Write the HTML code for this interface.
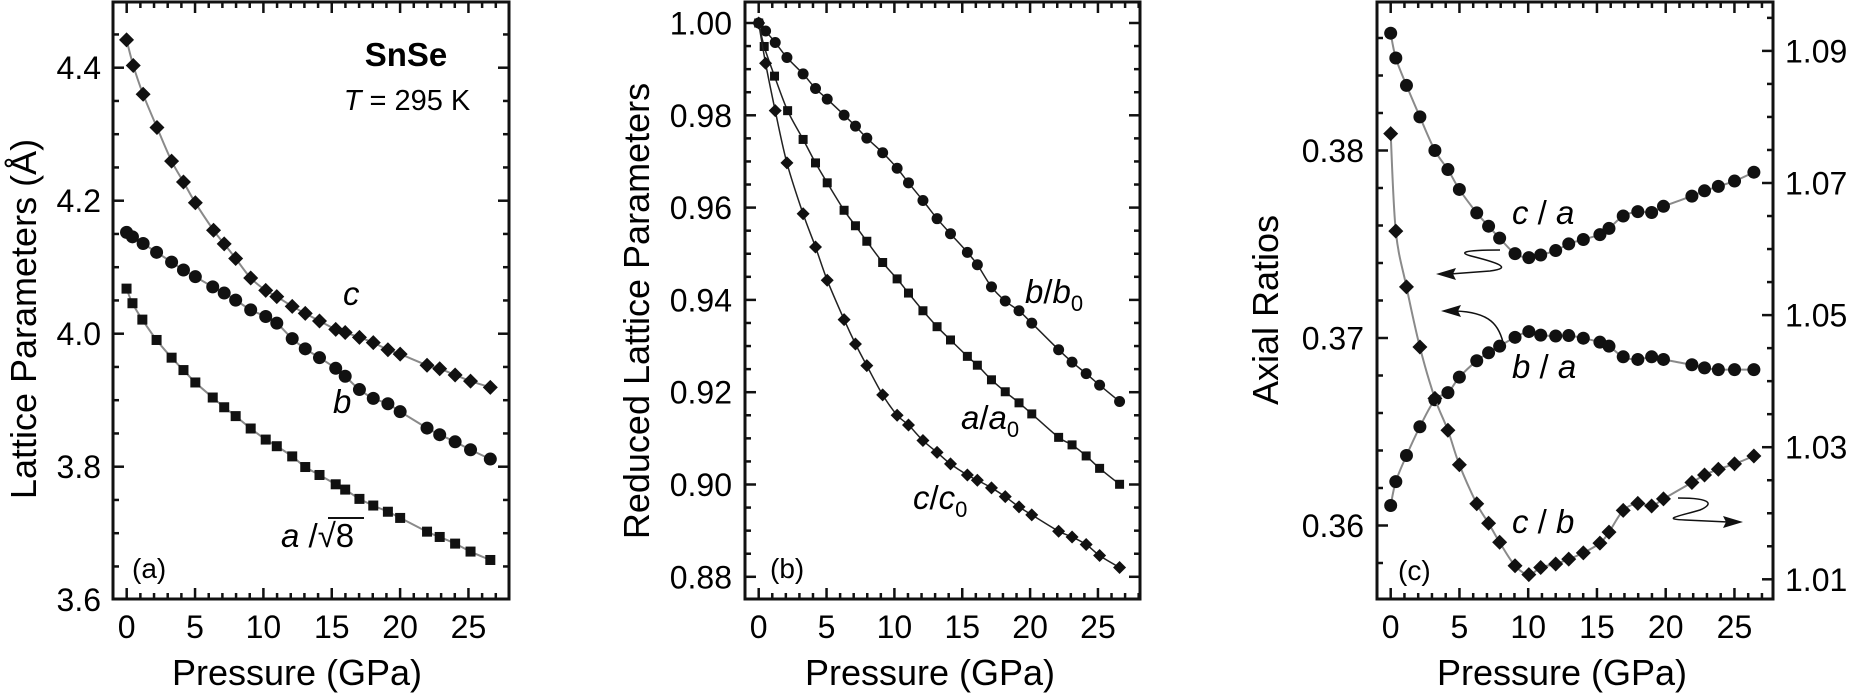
<!DOCTYPE html>
<html><head><meta charset="utf-8"><style>
html,body{margin:0;padding:0;background:#fff;}
svg{display:block;font-family:"Liberation Sans",Arial,sans-serif;}
</style></head><body>
<svg id="s" width="1849" height="694" viewBox="0 0 1849 694" xmlns="http://www.w3.org/2000/svg"></svg>
<script>
const S=document.getElementById('s');let h='';
function cr(p){let d='M'+p[0][0].toFixed(1)+','+p[0][1].toFixed(1);for(let i=0;i<p.length-1;i++){const p0=p[i-1]||p[i],p1=p[i],p2=p[i+1],p3=p[i+2]||p2;
const c1=[p1[0]+(p2[0]-p0[0])/6,p1[1]+(p2[1]-p0[1])/6],c2=[p2[0]-(p3[0]-p1[0])/6,p2[1]-(p3[1]-p1[1])/6];
d+=`C${c1[0].toFixed(1)},${c1[1].toFixed(1)} ${c2[0].toFixed(1)},${c2[1].toFixed(1)} ${p2[0].toFixed(1)},${p2[1].toFixed(1)}`;}return d;}
function mk(t,x,y,s){if(t=='c')return `<circle cx="${x}" cy="${y}" r="${s}" fill="#111"/>`;
if(t=='s')return `<rect x="${x-s}" y="${y-s}" width="${2*s}" height="${2*s}" fill="#111"/>`;
return `<polygon points="${x},${y-s} ${x+s},${y} ${x},${y+s} ${x-s},${y}" fill="#111"/>`;}
function series(pts,sx,off,t,s,col,lw){const p=pts.map(q=>[q[0]/sx+off,q[1]/2.259]);
h+=`<path d="${cr(p)}" fill="none" stroke="${col}" stroke-width="${lw}"/>`;p.forEach(q=>h+=mk(t,q[0],q[1],s));}
const FS=32;
function frame(L,R,T,B,x0,gpa,yt,ytR){
 for(let g=-1;g<=28;g++){const x=x0+g*gpa;if(x<=L+1||x>=R-1)continue;const M=g%5==0;const l=M?11:6;
  h+=`<line x1="${x}" y1="${B}" x2="${x}" y2="${B-l}" stroke="#111" stroke-width="2.5"/><line x1="${x}" y1="${T}" x2="${x}" y2="${T+l}" stroke="#111" stroke-width="2.5"/>`;
  if(M&&g>=0&&g<=25)h+=`<text x="${x}" y="638" font-size="${FS}" text-anchor="middle">${g}</text>`;}
 yt.forEach(t=>{const l=t[1]?11:6;h+=`<line x1="${L}" y1="${t[0]}" x2="${L+l}" y2="${t[0]}" stroke="#111" stroke-width="2.5"/>`;});
 (ytR||yt).forEach(t=>{const l=t[1]?11:6;h+=`<line x1="${R}" y1="${t[0]}" x2="${R-l}" y2="${t[0]}" stroke="#111" stroke-width="2.5"/>`;});
 h+=`<rect x="${L}" y="${T}" width="${R-L}" height="${B-T}" fill="none" stroke="#111" stroke-width="3"/>`;}
// Panel a
(function(){const yt=[],y44=67.7,per=665;for(let k=0;k<=18;k++){const v=3.6+k*0.05;const y=y44+(4.4-v)*per;if(y<3||y>602)continue;if(y<597)yt.push([y,k%4==0]);
 if(k%4==0)h+=`<text x="101" y="${y+11.5}" font-size="${FS}" text-anchor="end">${v.toFixed(1)}</text>`;}
 frame(113,509,2,599,126.7,13.67,yt);
 const sx=2.529;
 series([[320,90],[337,148],[362,213],[397,288],[434,364],[464,411],[494,458],[540,520],[567,551],[596,584],[634,628],[672,656],[700,670],[739,692],[772,708],[808,725],[849,744],[873,751],[909,762],[944,774],[981,790],[1012,800],[1080,825],[1112,833],[1151,847],[1190,861],[1240,875]],sx,0,'d',7.5,'#8a8a8a',2);
 series([[320,525],[335,535],[362,550],[396,570],[434,592],[464,610],[494,625],[538,648],[567,662],[596,678],[634,700],[672,715],[700,730],[739,765],[772,788],[808,808],[849,832],[873,850],[909,880],[944,900],[981,912],[1012,930],[1080,967],[1112,982],[1151,998],[1190,1016],[1240,1037]],sx,0,'c',6.5,'#8a8a8a',2);
 series([[320,652],[335,685],[360,722],[396,768],[434,808],[464,836],[494,864],[538,898],[567,920],[596,940],[634,968],[672,993],[700,1008],[739,1031],[772,1055],[808,1073],[849,1094],[873,1106],[909,1127],[944,1142],[981,1156],[1012,1170],[1080,1201],[1112,1213],[1151,1228],[1190,1246],[1240,1265]],sx,0,'s',5,'#8a8a8a',2);
 h+=`<text x="406" y="66" font-size="33" font-weight="bold" text-anchor="middle">SnSe</text>`;
 h+=`<text x="407" y="110" font-size="29" text-anchor="middle"><tspan font-style="italic">T</tspan> = 295 K</text>`;
 h+=`<text x="343" y="305" font-size="33" font-style="italic">c</text>`;
 h+=`<text x="333" y="413" font-size="33" font-style="italic">b</text>`;
 h+=`<text x="281" y="547" font-size="33"><tspan font-style="italic">a</tspan> /√8</text>`;
 h+=`<line x1="328" y1="518" x2="364" y2="518" stroke="#111" stroke-width="2"/>`;
 h+=`<text x="132" y="578" font-size="28">(a)</text>`;
 h+=`<text x="297" y="685" font-size="36" text-anchor="middle">Pressure (GPa)</text>`;
 h+=`<text transform="translate(36,319) rotate(-90)" font-size="36" text-anchor="middle">Lattice Parameters (Å)</text>`;
})();
// Panel b
(function(){const yt=[];for(let k=0;k<=30;k++){const v=0.875+k*0.005;const y=23+(1-v)*4615;if(y<3||y>597)continue;const M=Math.abs((v*100)%2)<0.01||Math.abs((v*100)%2-2)<0.01;yt.push([y,M]);
 if(M)h+=`<text x="732" y="${y+11.5}" font-size="${FS}" text-anchor="end">${v.toFixed(2)}</text>`;}
 frame(745,1140,2,599,758.7,13.57,yt);
 const sx=2.904,o=560;
 series([[577,52],[597,70],[625,96],[659,130],[706,167],[742,200],[776,224],[825,260],[858,285],[891,312],[937,345],[979,380],[1012,413],[1054,453],[1095,494],[1134,528],[1183,570],[1212,598],[1253,648],[1293,680],[1333,702],[1370,730],[1448,790],[1487,818],[1528,844],[1567,870],[1625,907]],sx,o,'c',5.5,'#222',1.5);
 series([[577,52],[593,105],[623,172],[661,250],[706,315],[742,368],[776,413],[825,475],[858,510],[891,545],[937,593],[979,630],[1012,662],[1054,702],[1095,738],[1134,768],[1183,805],[1212,825],[1253,858],[1293,885],[1333,910],[1370,935],[1448,988],[1487,1005],[1528,1030],[1567,1058],[1625,1094]],sx,o,'s',4.5,'#222',1.5);
 series([[577,52],[597,143],[625,250],[659,368],[706,483],[742,558],[776,633],[825,722],[858,777],[891,826],[937,892],[979,938],[1012,960],[1054,995],[1095,1022],[1134,1048],[1183,1073],[1212,1085],[1253,1102],[1293,1122],[1333,1145],[1370,1163],[1448,1200],[1487,1213],[1528,1230],[1567,1255],[1625,1282]],sx,o,'d',6.5,'#222',1.5);
 h+=`<text x="1025" y="303" font-size="33" font-style="italic">b<tspan font-style="normal">/</tspan>b<tspan font-size="22" font-style="normal" dy="8">0</tspan></text>`;
 h+=`<text x="961" y="429" font-size="33" font-style="italic">a<tspan font-style="normal">/</tspan>a<tspan font-size="22" font-style="normal" dy="8">0</tspan></text>`;
 h+=`<text x="913" y="509" font-size="33" font-style="italic">c<tspan font-style="normal">/</tspan>c<tspan font-size="22" font-style="normal" dy="8">0</tspan></text>`;
 h+=`<text x="770" y="578" font-size="28">(b)</text>`;
 h+=`<text x="930" y="685" font-size="36" text-anchor="middle">Pressure (GPa)</text>`;
 h+=`<text transform="translate(649,311) rotate(-90)" font-size="36" text-anchor="middle">Reduced Lattice Parameters</text>`;
})();
// Panel c
(function(){const yt=[],ytR=[];for(let k=0;k<=20;k++){const v=0.356+k*0.002;const y=150.5+(0.38-v)*18750;if(y<3||y>597)continue;const M=k%5==2;yt.push([y,M]);
 if(M)h+=`<text x="1364" y="${y+11.5}" font-size="${FS}" text-anchor="end">${v.toFixed(2)}</text>`;}
 for(let k=0;k<=20;k++){const v=1.005+k*0.005;const y=50.9+(1.09-v)*6605;if(y<3||y>597)continue;const M=k%4==1;ytR.push([y,M]);
 if(M)h+=`<text x="1785" y="${y+11.5}" font-size="${FS}">${v.toFixed(2)}</text>`;}
 frame(1377,1773,2,599,1390.7,13.75,yt,ytR);
 const sx=2.533,o=1230;
 series([[407,75],[420,131],[447,193],[481,264],[519,340],[552,383],[581,428],[625,481],[655,511],[683,538],[722,573],[757,582],[787,576],[825,566],[858,551],[895,541],[937,530],[960,516],[996,488],[1033,478],[1068,480],[1098,466],[1170,443],[1202,431],[1237,421],[1278,409],[1327,389]],sx,o,'c',6.5,'#8a8a8a',2);
 series([[407,1142],[420,1088],[447,1029],[481,964],[519,903],[552,887],[581,852],[625,815],[655,797],[683,782],[722,762],[757,749],[787,757],[825,759],[858,758],[895,764],[937,773],[960,782],[996,806],[1033,812],[1068,806],[1098,812],[1170,824],[1202,831],[1237,835],[1278,835],[1327,835]],sx,o,'c',6.5,'#8a8a8a',2);
 series([[407,302],[420,522],[447,648],[481,784],[519,900],[552,972],[581,1050],[625,1138],[655,1182],[683,1225],[722,1278],[757,1298],[787,1282],[825,1274],[858,1263],[895,1249],[937,1227],[960,1202],[996,1153],[1033,1137],[1068,1143],[1098,1127],[1170,1090],[1202,1073],[1237,1060],[1278,1048],[1327,1030]],sx,o,'d',7.5,'#8a8a8a',2);
 h+=`<text x="1512" y="224" font-size="33" font-style="italic">c <tspan font-style="normal">/</tspan> a</text>`;
 h+=`<text x="1512" y="378" font-size="33" font-style="italic">b <tspan font-style="normal">/</tspan> a</text>`;
 h+=`<text x="1512" y="533" font-size="33" font-style="italic">c <tspan font-style="normal">/</tspan> b</text>`;
 h+=`<text x="1398" y="580" font-size="28">(c)</text>`;
 h+=`<path d="M1500,250 C1460,250 1460,253 1471,256 C1495,262 1515,268 1490,271 L1450,274" fill="none" stroke="#111" stroke-width="1.5"/>`;
 h+=`<polygon points="1436,274 1456,268 1453,274 1456,280" fill="#111"/>`;
 h+=`<path d="M1504,347 C1500,325 1490,312 1455,311" fill="none" stroke="#111" stroke-width="1.5"/>`;
 h+=`<polygon points="1441,311 1461,305 1458,311 1461,317" fill="#111"/>`;
 h+=`<path d="M1678,498 C1715,498 1712,505 1700,510 C1680,516 1660,519 1685,520 L1728,522" fill="none" stroke="#111" stroke-width="1.5"/>`;
 h+=`<polygon points="1743,522 1723,516 1726,522 1723,528" fill="#111"/>`;
 h+=`<text x="1562" y="685" font-size="36" text-anchor="middle">Pressure (GPa)</text>`;
 h+=`<text transform="translate(1278,310) rotate(-90)" font-size="36" text-anchor="middle">Axial Ratios</text>`;
})();
S.innerHTML=h;
</script>
</body></html>
